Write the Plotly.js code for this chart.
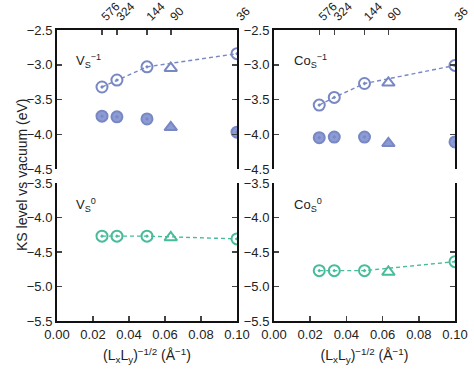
<!DOCTYPE html>
<html><head><meta charset="utf-8">
<script src="https://cdn.plot.ly/plotly-3.0.1.min.js"></script>
<style>html,body{margin:0;padding:0;background:#fff}</style>
</head><body><div id="chart" style="width:474px;height:379px"></div>
<script>
// supercell sizes (top tick labels) and their x positions (LxLy)^-1/2
const cells = ['576','324','144','90','36'];
const xs = [0.025, 0.0333, 0.05, 0.0632, 0.1];
// which point is a triangle (index 3 -> 90)
const isTri = [false,false,false,true,false];

// V_S panel (-1 charge): empty markers / filled markers
const vM1open = [-3.32, -3.22, -3.03, -3.05, -2.84];
const vM1fill = [-3.74, -3.75, -3.78, -3.90, -3.97];
// Co_S panel (-1 charge)
const coM1open = [-3.58, -3.47, -3.27, -3.26, -3.01];
const coM1fill = [-4.05, -4.04, -4.04, -4.13, -4.11];
// neutral
const v0 = [-4.27, -4.27, -4.27, -4.29, -4.31];
const co0 = [-4.77, -4.77, -4.77, -4.79, -4.64];

const blue = '#7888c4', blueFill = '#8c9bd3', green = '#48bc9a';

function lineTrace(y, color, xa, ya){
  const lx = [], ly = [];
  xs.forEach((x,i)=>{ if(!isTri[i]){ lx.push(x); ly.push(y[i]); } });
  return {x:lx, y:ly, xaxis:xa, yaxis:ya, mode:'lines', type:'scatter',
    line:{color:color, width:1.4, dash:'4px,3px'}, hoverinfo:'skip', showlegend:false};
}
function markerTrace(y, color, xa, ya, filled){
  return {x:xs, y:y, xaxis:xa, yaxis:ya, mode:'markers', type:'scatter', showlegend:false,
    marker:{
      symbol: isTri.map(t => t ? (filled ? 'triangle-up' : 'triangle-up-open')
                               : (filled ? 'circle-dot' : 'circle-open-dot')),
      size: 11,
      color: filled ? blueFill : color,
      line:{color: color, width: 2}
    }};
}

const data = [
  lineTrace(vM1open, blue, 'x3', 'y3'),
  markerTrace(vM1open, blue, 'x3', 'y3', false),
  markerTrace(vM1fill, blue, 'x3', 'y3', true),
  lineTrace(coM1open, blue, 'x4', 'y4'),
  markerTrace(coM1open, blue, 'x4', 'y4', false),
  markerTrace(coM1fill, blue, 'x4', 'y4', true),
  lineTrace(v0, green, 'x', 'y'),
  markerTrace(v0, green, 'x', 'y', false),
  lineTrace(co0, green, 'x2', 'y2'),
  markerTrace(co0, green, 'x2', 'y2', false)
];

const font = {family:'Liberation Sans, Arial, sans-serif', size:13, color:'#222'};
const W = 474, H = 379;
const dl = [57/W, 237/W], dr = [274/W, 455/W];
const dtop = [1-169/H, 1-30/H], dbot = [1-321/H, 1-183/H];
const xtitle = '(L<sub>x</sub>L<sub>y</sub>)<sup>−1/2</sup> (Å<sup>−1</sup>)';

function xBottom(dom, anchor){
  return {domain:dom, anchor:anchor, range:[0,0.1], tickvals:[0,0.02,0.04,0.06,0.08,0.1],
    ticktext:['0.00','0.02','0.04','0.06','0.08','0.10'], ticks:'inside', ticklen:5, tickwidth:1.5,
    showline:true, linewidth:2, linecolor:'#111', showgrid:false, zeroline:false,
    tickfont:font, title:{text:xtitle, font:{...font, size:14}, standoff:10}};
}
function xTop(dom, anchor){
  return {domain:dom, anchor:anchor, side:'top', range:[0,0.1], tickvals:xs, ticktext:cells,
    tickangle:-45, ticks:'inside', ticklen:5, tickwidth:1.5,
    showline:true, linewidth:2, linecolor:'#111', showgrid:false, zeroline:false,
    tickfont:{...font, size:12}};
}
function yAx(dom, anchor, rng){
  return {domain:dom, anchor:anchor, range:rng, dtick:0.5, tick0:-5.5, tickformat:'.1f',
    ticks:'inside', ticklen:5, tickwidth:1.5, showline:true, linewidth:2, linecolor:'#111',
    mirror:'ticks', showgrid:false, zeroline:false, tickfont:font};
}

const layout = {
  width:W, height:H, margin:{l:0,r:0,t:0,b:0}, paper_bgcolor:'#fff', plot_bgcolor:'#fff',
  font:font, showlegend:false,
  xaxis: xBottom(dl, 'y'), yaxis: yAx(dbot, 'x', [-5.5,-3.5]),
  xaxis2: xBottom(dr, 'y2'), yaxis2: yAx(dbot, 'x2', [-5.5,-3.5]),
  xaxis3: xTop(dl, 'y3'), yaxis3: yAx(dtop, 'x3', [-4.5,-2.5]),
  xaxis4: xTop(dr, 'y4'), yaxis4: yAx(dtop, 'x4', [-4.5,-2.5]),
  annotations:[
    {text:'KS level vs vacuum (eV)', textangle:-90, xref:'paper', yref:'paper',
     x:12/W, y:1-175/H, showarrow:false, font:{...font, size:14}},
    {text:'V<sub>S</sub><sup>−1</sup>', xref:'paper', yref:'paper', x:74/W, y:1-50/H,
     xanchor:'left', showarrow:false, font:font},
    {text:'Co<sub>S</sub><sup>−1</sup>', xref:'paper', yref:'paper', x:292/W, y:1-50/H,
     xanchor:'left', showarrow:false, font:font},
    {text:'V<sub>S</sub><sup>0</sup>', xref:'paper', yref:'paper', x:74/W, y:1-205/H,
     xanchor:'left', showarrow:false, font:font},
    {text:'Co<sub>S</sub><sup>0</sup>', xref:'paper', yref:'paper', x:292/W, y:1-205/H,
     xanchor:'left', showarrow:false, font:font}
  ]
};
Plotly.newPlot('chart', data, layout, {staticPlot:true, displayModeBar:false});
</script></body></html>
